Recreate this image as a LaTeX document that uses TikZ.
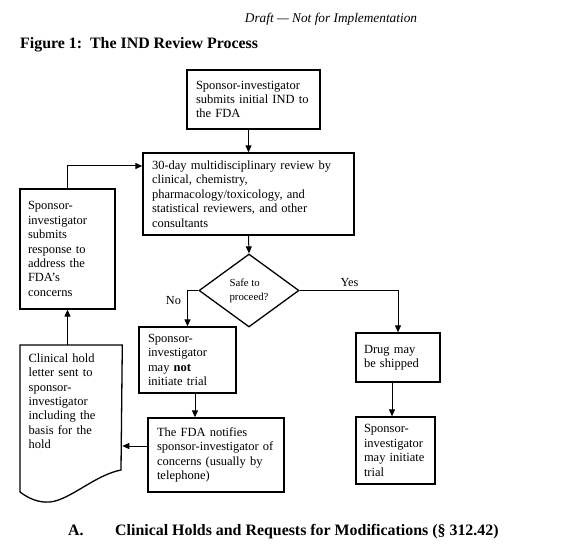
\documentclass[tikz,border=0pt]{standalone}
\usepackage{fontspec}
\setmainfont{Liberation Serif}
\usetikzlibrary{arrows.meta,shapes.geometric}
\begin{document}
\begin{tikzpicture}[x=1pt,y=-1pt,
 box/.style={draw, line width=1.3pt, align=left, inner xsep=9pt, inner ysep=0pt, font=\fontsize{12.5}{14.4}\selectfont},
 arr/.style={-{Triangle[length=7pt,width=6pt]}, line width=1pt},
 lbl/.style={font=\fontsize{12.3}{14}\selectfont, inner sep=0pt},
 head/.style={font=\fontsize{15.9}{18}\selectfont\bfseries, anchor=base west, inner sep=0pt}]
\useasboundingbox (0,0) rectangle (573,548);
\node[font=\fontsize{13.3}{15}\selectfont\itshape, inner sep=0pt, anchor=base] (draft) at (331,22.5) {Draft — Not for Implementation};
\node[head] (fig) at (20,48.5) {Figure 1:\ \ The IND Review Process};
% boxes
\node[box, text width=115pt, minimum height=59pt] (n1) at (253.5,99.5) {Sponsor-investigator\\submits initial IND to\\the FDA};
\node[box, text width=193pt, minimum height=82pt] (n2) at (248.5,194) {30-day multidisciplinary review by\\clinical, chemistry,\\pharmacology/toxicology, and\\statistical reviewers, and other\\consultants};
\node[draw, diamond, line width=1.3pt, minimum width=100pt, minimum height=73pt, inner sep=0pt, align=left, font=\fontsize{10.8}{14}\selectfont] (d) at (249,290.5) {Safe to\\proceed?};
\node[box, text width=79pt, minimum height=66pt] (n3) at (187.5,360) {Sponsor-\\investigator\\may \textbf{not}\\initiate trial};
\node[box, text width=118pt, minimum height=74pt] (n4) at (216,455) {The FDA notifies\\sponsor-investigator of\\concerns (usually by\\telephone)};
\node[box, inner xsep=8pt, text width=68pt, minimum height=49pt] (n5) at (398,357.5) {Drug may\\be shipped};
\node[box, inner xsep=8pt, text width=63pt, minimum height=67pt] (n6) at (395.5,450.5) {Sponsor-\\investigator\\may initiate\\trial};
\node[box, inner xsep=8pt, text width=79pt, minimum height=120pt] (n7) at (67.5,249) {Sponsor-\\investigator\\submits\\response to\\address the\\FDA’s\\concerns};
\node[box, draw=none, inner xsep=8pt, text width=85pt, minimum height=111pt, anchor=north west] (n8) at (20,345) {Clinical hold\\letter sent to\\sponsor-\\investigator\\including the\\basis for the\\hold};
\draw[line width=1.3pt] (n8.north west) -- (n8.north east) -- (121,470) .. controls (95,475) and (70,500) .. (50,502) .. controls (38,503) and (28,498) .. (20,492) -- cycle;
% connectors
\draw[arr] (n1.south -| n2.north) -- (n2.north);
\draw[arr] (n2.south) -- (d.north);
\draw[arr] (d.west) -| (n3.north);
\draw[arr] (d.east) -| (n5.north);
\draw[arr] ([xshift=7.5pt]n3.south) -- ([xshift=7.5pt]n3.south |- n4.north);
\draw[arr] ([xshift=-6pt]n5.south) -- ([xshift=-6pt]n5.south |- n6.north);
\draw[arr] ([yshift=9pt]n4.west) -- ([yshift=9pt]n4.west -| n8.east);
\draw[arr] (n8.north -| n7.south) -- (n7.south);
\draw[arr] (n7.north) |- ([yshift=28pt]n2.west);
% labels
\node[lbl] (no) at (173.5,301) {No};
\node[lbl] (yes) at (349.5,283) {Yes};
% heading
\node[head] (ha) at (68,535.5) {A.};
\node[head] (hb) at (115,535.5) {Clinical Holds and Requests for Modifications (§ 312.42)};
\end{tikzpicture}
\end{document}
